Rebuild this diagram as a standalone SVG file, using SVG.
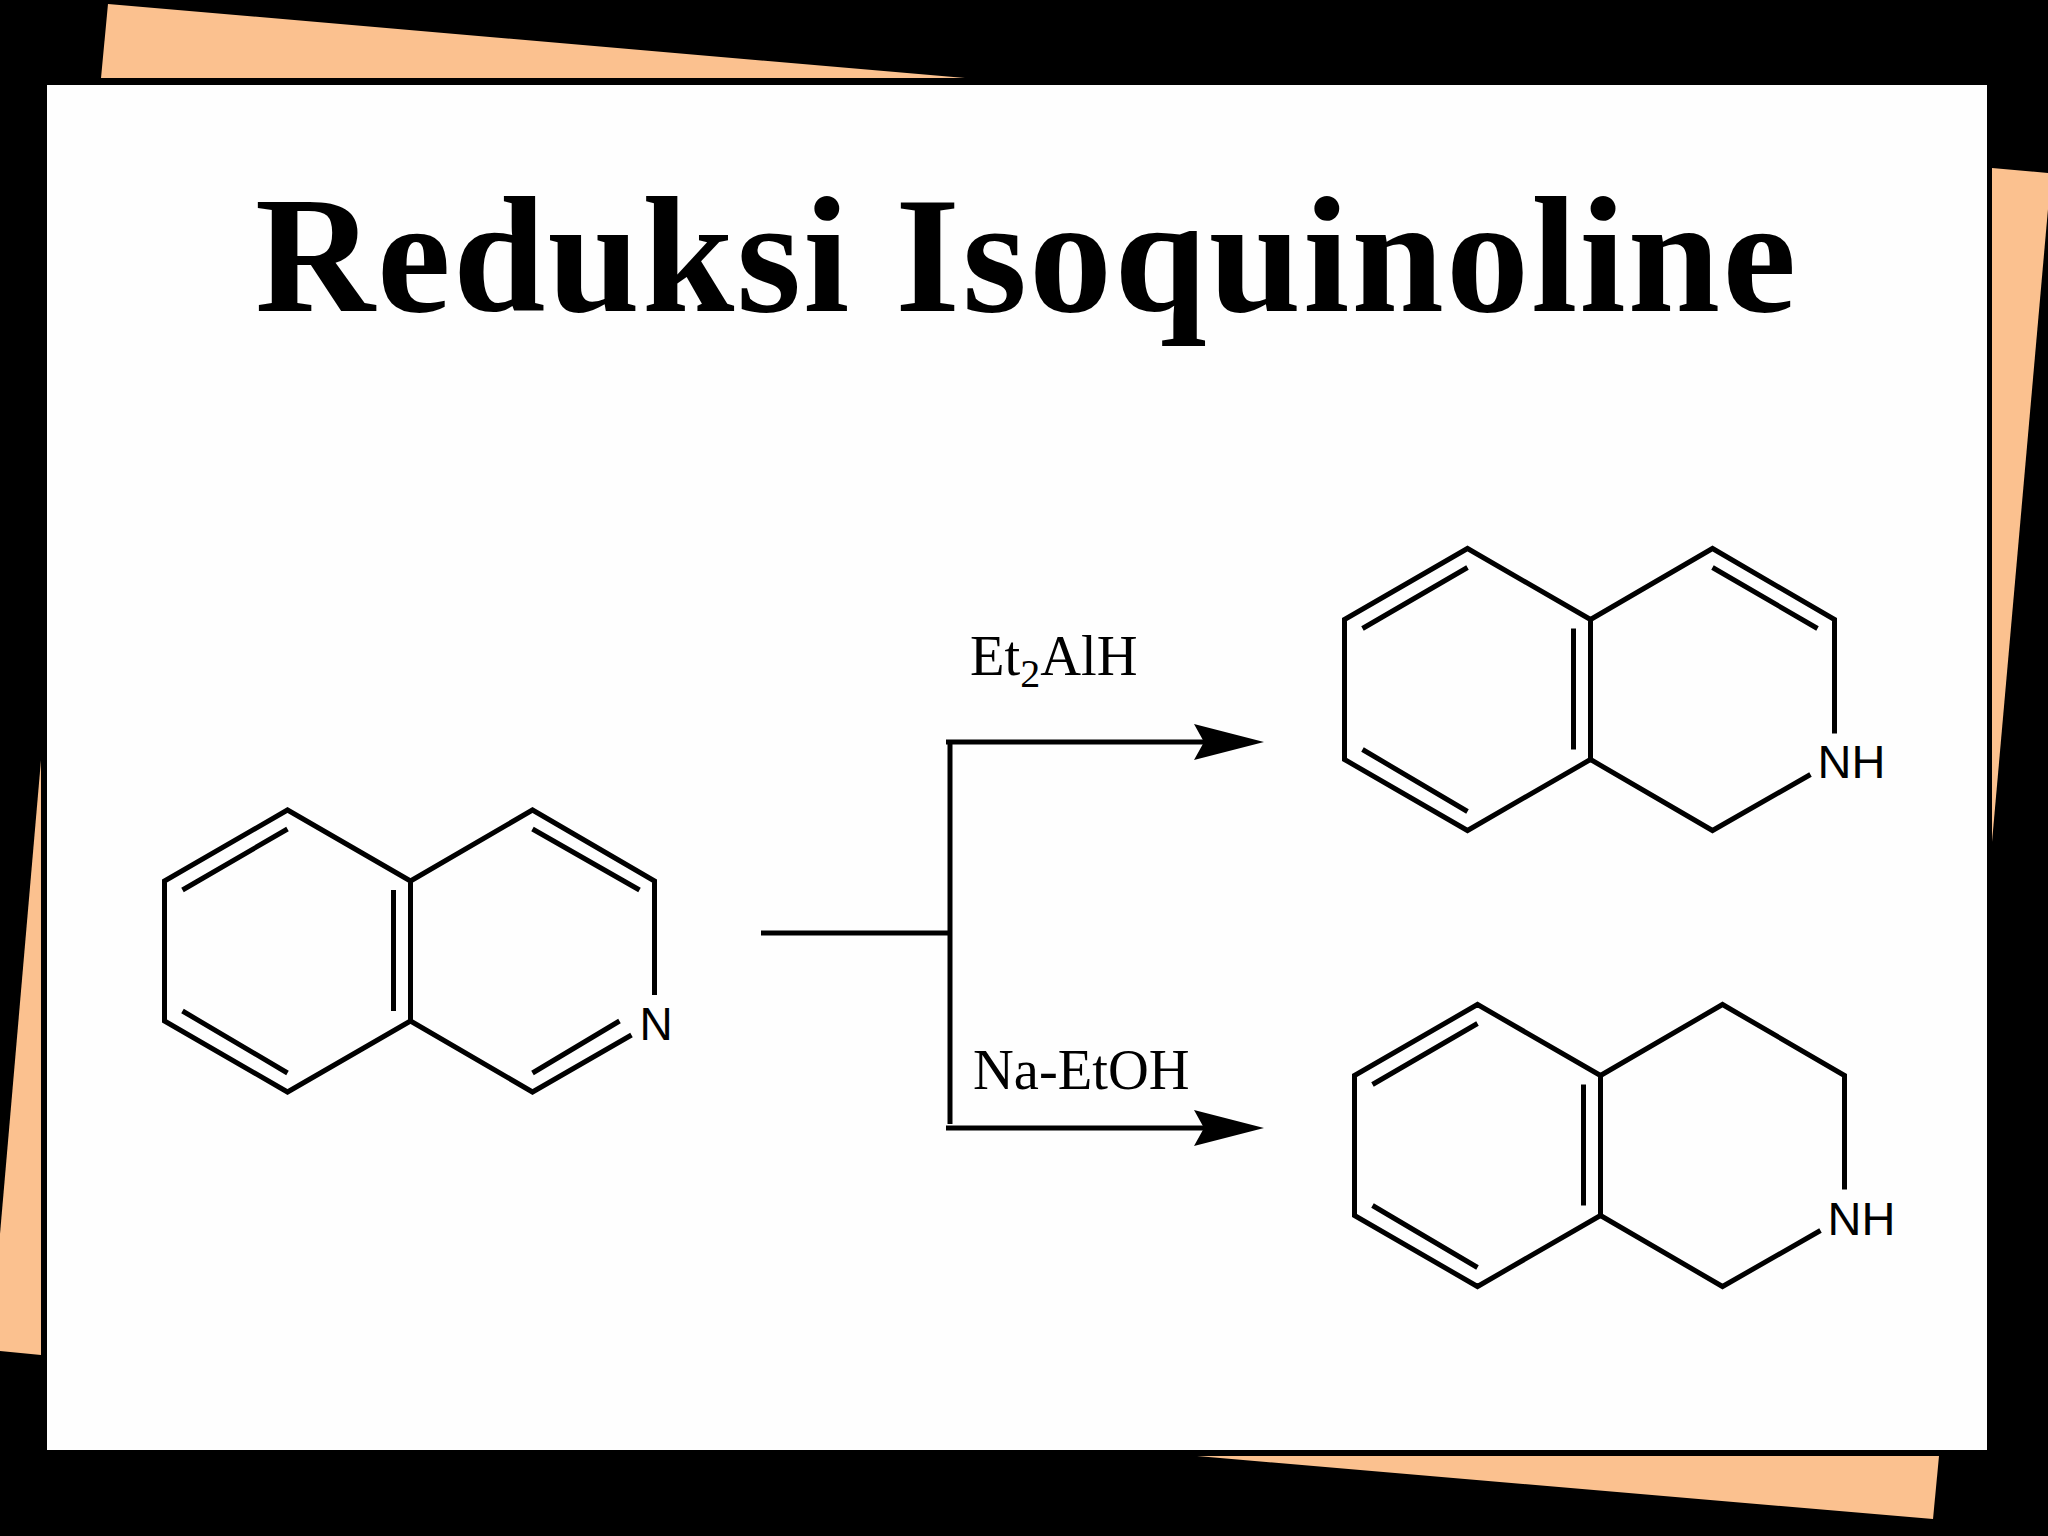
<svg xmlns="http://www.w3.org/2000/svg" width="2048" height="1536" viewBox="0 0 2048 1536">
<style>
.o{fill:#fbc18f}
.b{fill:none;stroke:#000;stroke-width:5;stroke-linejoin:miter;stroke-linecap:butt}
.c{fill:none;stroke:#000;stroke-width:5}
.s{font-family:"Liberation Serif","Times New Roman",serif;fill:#000}
.a{font-family:"Liberation Sans",Arial,sans-serif;font-size:47px;fill:#000}
</style>
<defs>
<path id="benzo" class="b" d="M246,71L123,0L0,71V211L123,282L246,211ZM18,80L123,19M229,80V201M18,201L123,263"/>
<marker id="head" markerUnits="userSpaceOnUse" markerWidth="72" markerHeight="40" refX="10" refY="20" orient="auto"><path d="M0,2L70,20L0,38L10,20Z" fill="#000"/></marker>
</defs>
<rect id="background" width="2048" height="1536" fill="#000"/>
<g id="paper-back">
<path class="o" d="M108,4L965,78H101Z"/>
<path class="o" d="M1992,168L2048,173V209L1992,842Z"/>
<path class="o" d="M41,760V1355L0,1351V1234Z"/>
<path class="o" d="M1197,1456H1939L1933,1519Z"/>
</g>
<rect id="panel" x="47" y="85" width="1940" height="1365" fill="#fefefe"/>
<text id="title" class="s" x="255" y="311" font-size="166" font-weight="700" letter-spacing="2.2">Reduksi Isoquinoline</text>
<g id="isoquinoline" transform="translate(164.5,810)">
<use href="#benzo"/>
<path class="b" d="M246,71L368,0L490,71V185M368,19L475,80M246,211L368,282L467,225M368,263L455,211"/>
<text class="a" x="475" y="230" style="font-size:46px">N</text>
</g>
<g id="dihydroisoquinoline" transform="translate(1344.5,548.5)">
<use href="#benzo"/>
<path class="b" d="M246,71L368,0L490,71V185M368,19L473,80M246,211L368,282L466,226"/>
<text class="a" x="473" y="229">NH</text>
</g>
<g id="tetrahydroisoquinoline" transform="translate(1354.5,1004.5)">
<use href="#benzo"/>
<path class="b" d="M246,71L368,0L490,71V185M246,211L368,282L466,226"/>
<text class="a" x="473" y="230">NH</text>
</g>
<g id="connectors">
<path class="c" d="M761,933H950"/>
<path class="c" d="M950,740V1124"/>
<path class="c" d="M946,742H1204" marker-end="url(#head)"/>
<path class="c" d="M946,1128H1204" marker-end="url(#head)"/>
</g>
<g id="labels">
<text class="s" x="970" y="675" font-size="56.5">Et<tspan font-size="40" dy="12">2</tspan><tspan dy="-12">AlH</tspan></text>
<text class="s" x="973" y="1089" font-size="56.5">Na-EtOH</text>
</g>
</svg>
